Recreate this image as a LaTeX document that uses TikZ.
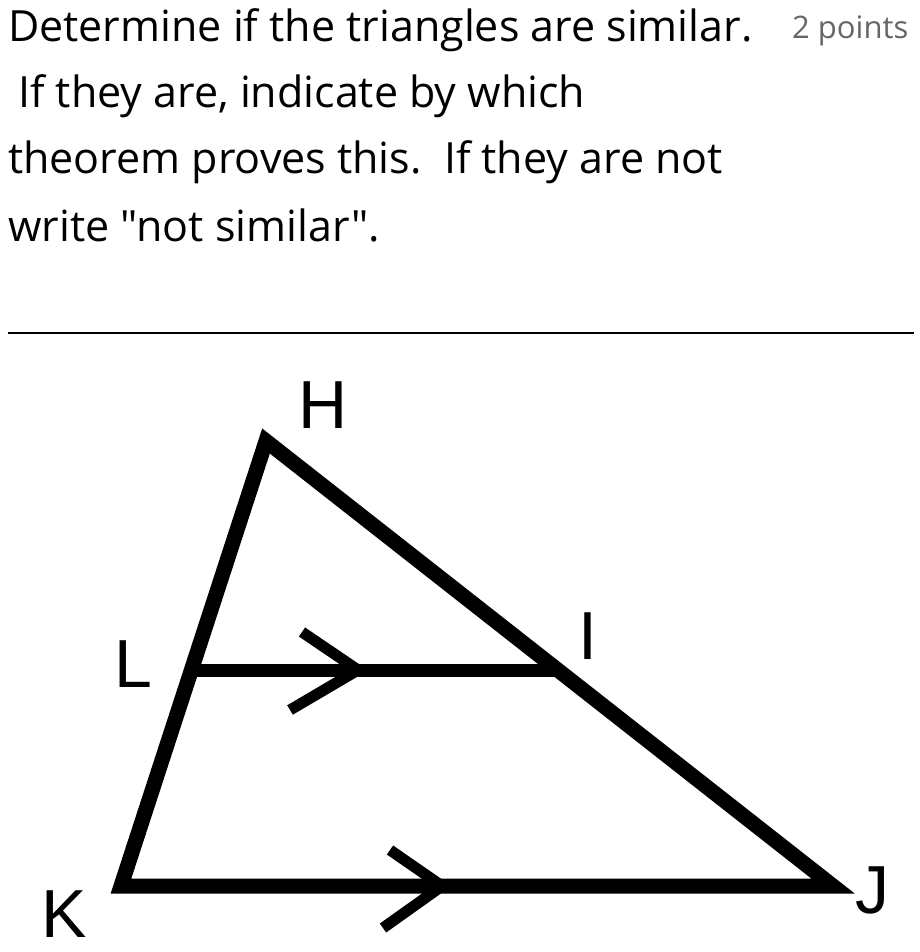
\documentclass[tikz,border=0pt]{standalone}
\usepackage{fontspec}
\setmainfont{Liberation Sans}
\newfontfamily\qfont{Open Sans}
\begin{document}
\begin{tikzpicture}[x=1pt,y=-1pt,
  qline/.style={anchor=base west,inner sep=0pt,font=\qfont\fontsize{43}{43}\selectfont},
  vlabel/.style={inner sep=0pt,font=\fontsize{68}{68}\selectfont},
  side/.style={line width=15pt,line join=miter},
  chev/.style={line width=11pt}]
\useasboundingbox (0,0) rectangle (919,952);
\fill[white] (0,0) rectangle (919,952);
\node[qline] (t1) at (8,42) {Determine if the triangles are similar.};
\node[qline,font=\qfont\fontsize{31}{31}\selectfont,text=black!60] (pts) at (792,39) {2 points};
\node[qline] (t2) at (18,108) {If they are, indicate by which};
\node[qline] (t3) at (8,174) {theorem proves this.\ \ If they are not};
\node[qline] (t4) at (8,241) {write "not similar".};
\draw[line width=2pt] (8,333) -- (914,333);
\coordinate (H) at (266,441);
\coordinate (K) at (121,886);
\coordinate (J) at (833,886);
\coordinate (L) at (192,670);
\coordinate (I) at (556,670);
\draw[side] (H) -- (K) -- (J) -- cycle;
\draw[line width=13pt] (L) -- (I);
\draw[chev] (302,632) -- (358,670) -- (290,710);
\draw[chev] (390,850) -- (442,886) -- (383,928);
\node[vlabel] (lH) at (323,405) {H};
\node[vlabel] (lL) at (133,664) {L};
\node[vlabel] (lI) at (588,636) {I};
\node[vlabel] (lK) at (64,914) {K};
\node[vlabel] (lJ) at (872,890) {J};
\end{tikzpicture}
\end{document}
